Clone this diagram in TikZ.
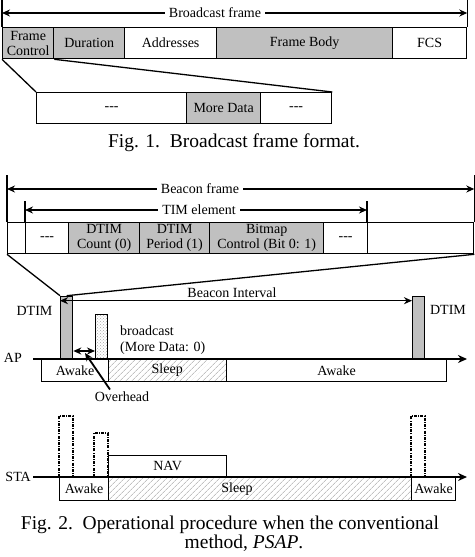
\documentclass[tikz,border=0pt]{standalone}
\usepackage{fontspec}
\setmainfont{Liberation Serif}
\usetikzlibrary{arrows.meta,patterns,patterns.meta}
\definecolor{cellgray}{RGB}{192,192,192}
\begin{document}
\begin{tikzpicture}[x=1pt,y=-1pt,
  font=\fontsize{14}{15}\selectfont,
  cell/.style={draw, line width=1.3pt, inner sep=0pt, anchor=north west, align=center, minimum height=31pt},
  gcell/.style={cell, fill=cellgray},
  scell/.style={draw, line width=1.3pt, inner sep=0pt, anchor=north west, align=center},
  hatch/.style={pattern={Lines[angle=45,distance=4pt,line width=0.5pt]}, pattern color=gray!75},
  bar/.style={draw, line width=1.3pt, inner sep=0pt, anchor=south west, minimum width=12pt},
  arr/.style={line width=1.5pt, arrows={Stealth[length=8pt,width=7pt]-Stealth[length=8pt,width=7pt]}},
  tick/.style={line width=1.3pt},
  axis/.style={line width=2pt, arrows={-Stealth[length=9pt,width=8pt]}},
  lbl/.style={fill=white, inner sep=4pt},
  pulse/.style={line width=1.4pt, dash pattern=on 3pt off 1.2pt on 1pt off 1.2pt},
  captxt/.style={font=\fontsize{19.5}{22}\selectfont}
]
\useasboundingbox (0,0) rectangle (474,557);

% ---------------- Fig. 1 ----------------
\node[gcell, minimum width=51pt]  (fc)   at (2,27)   {Frame\\Control};
\node[gcell, minimum width=71pt]  (dur)  at (53,27)  {Duration};
\node[cell,  minimum width=92pt]  (addr) at (124,27) {Addresses};
\node[gcell, minimum width=176pt] (body) at (216,27) {Frame Body};
\node[cell,  minimum width=74pt]  (fcs)  at (392,27) {FCS};

\draw[tick] (fc.north west) -- ++(0,-27);
\draw[tick] (fcs.north east) -- ++(0,-27);
\draw[arr] ([yshift=14pt]fc.north west) -- ([yshift=14pt]fcs.north east);
\node[lbl] (bflbl) at (215,13) {Broadcast frame};

\node[cell,  minimum width=150pt] (d1) at (36,92)  {-{}-{}-};
\node[gcell, minimum width=74pt]  (md) at (186,92) {More Data};
\node[cell,  minimum width=71pt]  (d2) at (260,92) {-{}-{}-};

\draw[tick] (fc.south west) -- (d1.north west);
\draw[tick] (fc.south east) -- (d2.north east);

\node[captxt] (cap1) at (234,143) {Fig. 1.\ \ Broadcast frame format.};

% ---------------- Fig. 2 top ----------------
\node[cell,  minimum width=18pt]  (c0) at (7,222)   {};
\node[cell,  minimum width=43pt]  (c1) at (25,222)  {-{}-{}-};
\node[gcell, minimum width=71pt]  (c2) at (68,222)  {DTIM\\Count (0)};
\node[gcell, minimum width=70pt]  (c3) at (139,222) {DTIM\\Period (1)};
\node[gcell, minimum width=114pt] (c4) at (209,222) {Bitmap\\Control (Bit 0: 1)};
\node[cell,  minimum width=44pt]  (c5) at (323,222) {-{}-{}-};
\node[cell,  minimum width=106pt] (c6) at (367,222) {};

\draw[tick] (c0.north west) -- ++(0,-47);
\draw[tick] (c6.north east) -- ++(0,-47);
\draw[tick] (c1.north west) -- ++(0,-21);
\draw[tick] (c6.north west) -- ++(0,-21);
\draw[arr] ([yshift=33pt]c0.north west) -- ([yshift=33pt]c6.north east);
\node[lbl] (beaconlbl) at (200,189) {Beacon frame};
\draw[arr] ([yshift=12pt]c1.north west) -- ([yshift=12pt]c6.north west);
\node[lbl] (timlbl) at (199,210) {TIM element};

% ---------------- AP timeline ----------------
\node[bar, fill=cellgray, minimum height=62pt] (dtim1) at (60,359) {};
\node[bar, fill=cellgray, minimum height=62pt] (dtim2) at (412,359) {};
\node[bar, pattern=crosshatch dots, pattern color=gray!70, minimum height=44pt] (bc) at (95,359) {};

\draw[tick] (c0.south west) -- (dtim1.north west);
\draw[tick] (c6.south east) -- (dtim1.north);

\draw[arr] ([yshift=-5pt]dtim1.north west) -- ([yshift=-5pt]dtim2.north west);
\node (bilbl) at (232,293) {Beacon Interval};
\node (dtimL) at (34.5,311) {DTIM};
\node (dtimR) at (448,310) {DTIM};
\node[anchor=west, inner sep=0pt] (bclbl) at (120,331) {broadcast};
\node[anchor=west, inner sep=0pt] (mdlbl) at (120,348) {(More Data: 0)};

\coordinate (apL) at (33,359);
\coordinate (apR) at (467,359);
\node[anchor=east, inner sep=0pt] (aplbl) at (22,358) {AP};

\node[scell, minimum width=67pt,  minimum height=22pt] (a1) at (41,359)  {Awake};
\node[scell, hatch, minimum width=118pt, minimum height=22pt] (a2) at (108,359) {Sleep};
\node[scell, minimum width=220pt, minimum height=22pt] (a3) at (226,359) {Awake};
\draw[axis] (apL) -- (apR);

\draw[arr] ([yshift=8pt]dtim1.south east) -- ([yshift=8pt]bc.south west);
\node (ovh) at (122,397) {Overhead};
\coordinate (ovtip) at (85,353);
\draw[line width=1.8pt, arrows={-Stealth[length=8pt,width=7pt]}] ([xshift=-12pt,yshift=-1pt]ovh.north) -- (ovtip);

% ---------------- STA timeline ----------------
\coordinate (staL) at (33,477);
\coordinate (staR) at (467,477);
\node[anchor=east, inner sep=0pt] (stalbl) at (31,477) {STA};

\draw[pulse] (59,477) -- (59,416) -- (73,416) -- (73,477);
\draw[pulse] (94,477) -- (94,433) -- (108,433) -- (108,477);
\draw[pulse] (411,477) -- (411,416) -- (425,416) -- (425,477);

\node[scell, anchor=south west, minimum width=118pt, minimum height=21pt] (nav) at (108,477) {NAV};

\node[scell, minimum width=49pt,  minimum height=23pt] (s1) at (59,477)  {Awake};
\node[scell, hatch, minimum width=303pt, minimum height=23pt] (s2) at (108,477) {};
\node (sleepB) at (237,489) {Sleep};
\node[scell, minimum width=44pt,  minimum height=23pt] (s3) at (411,477) {Awake};
\draw[axis] (staL) -- (staR);

\node[captxt] (cap2a) at (230,525) {Fig. 2.\ \ Operational procedure when the conventional};
\node[captxt] (cap2b) at (244,543) {method, \textit{PSAP}.};
\end{tikzpicture}
\end{document}
